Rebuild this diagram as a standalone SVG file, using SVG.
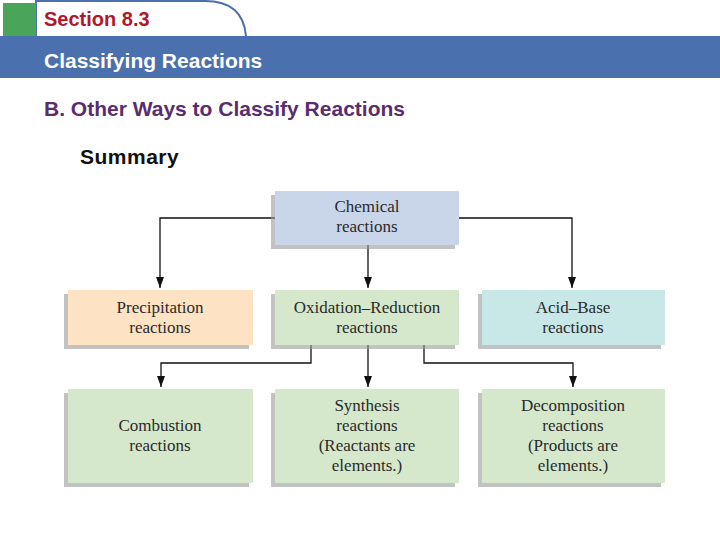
<svg xmlns="http://www.w3.org/2000/svg" width="720" height="540" viewBox="0 0 720 540">
<defs>
<style>
.t{font-family:"Liberation Serif",serif;font-size:17px;fill:#2a2a2a;text-anchor:middle}
.c{fill:none;stroke:#111;stroke-width:1.3}
.sh{fill:#9a9a9a;opacity:0.6}
</style>
<marker id="a" viewBox="0 0 10 10" refX="5" refY="10" markerWidth="7" markerHeight="9" orient="auto-start-reverse" markerUnits="userSpaceOnUse"><path d="M0,0 L10,0 L5,10 Z" fill="#111" transform="rotate(-90 5 5)"/></marker>
<marker id="d" viewBox="0 0 8 11" refX="4" refY="11" markerWidth="8" markerHeight="11" orient="0" markerUnits="userSpaceOnUse"><path d="M0,0 L8,0 L4,11 Z" fill="#111"/></marker>
</defs>
<rect width="720" height="540" fill="#fff"/>
<rect x="0" y="36" width="720" height="42" fill="#4a70ad"/>
<path d="M36,36 V1 H205 Q243,1 246,36" fill="#fff" stroke="#4a70ad" stroke-width="2"/>
<rect x="3" y="3" width="33" height="33" fill="#4aa55a"/>
<text x="44" y="26" font-family="Liberation Sans,sans-serif" font-size="20" font-weight="bold" fill="#b0182a">Section 8.3</text>
<text x="44" y="68" font-family="Liberation Sans,sans-serif" font-size="21" font-weight="bold" fill="#fff">Classifying Reactions</text>
<text x="44" y="116" font-family="Liberation Sans,sans-serif" font-size="21" font-weight="bold" fill="#5a2d6e">B. Other Ways to Classify Reactions</text>
<text x="80" y="164" font-family="Liberation Sans,sans-serif" font-size="21" font-weight="bold" fill="#111" letter-spacing="0.5">Summary</text>
<g id="connectors">
<path class="c" d="M275,218 H160 V288" marker-end="url(#d)"/>
<path class="c" d="M459,218 H572 V288" marker-end="url(#d)"/>
<path class="c" d="M368,245 V288" marker-end="url(#d)"/>
<path class="c" d="M311,345 V363 H161 V387" marker-end="url(#d)"/>
<path class="c" d="M368,345 V387" marker-end="url(#d)"/>
<path class="c" d="M424,345 V363 H573 V387" marker-end="url(#d)"/>
</g>
<g id="chem"><rect class="sh" x="271" y="195" width="184" height="54"/><rect x="275" y="191" width="184" height="54" fill="#c9d5e8"/><text class="t" x="367" y="212">Chemical</text><text class="t" x="367" y="232">reactions</text></g>
<g id="precip"><rect class="sh" x="64" y="294" width="185" height="55"/><rect x="68" y="290" width="185" height="55" fill="#fde2c3"/><text class="t" x="160" y="313">Precipitation</text><text class="t" x="160" y="333">reactions</text></g>
<g id="redox"><rect class="sh" x="271" y="294" width="184" height="55"/><rect x="275" y="290" width="184" height="55" fill="#d5e8cc"/><text class="t" x="367" y="313">Oxidation–Reduction</text><text class="t" x="367" y="333">reactions</text></g>
<g id="acid"><rect class="sh" x="478" y="294" width="183" height="55"/><rect x="482" y="290" width="183" height="55" fill="#c8e8e8"/><text class="t" x="573" y="313">Acid–Base</text><text class="t" x="573" y="333">reactions</text></g>
<g id="comb"><rect class="sh" x="64" y="393" width="185" height="94"/><rect x="68" y="389" width="185" height="94" fill="#d5e8cc"/><text class="t" x="160" y="431">Combustion</text><text class="t" x="160" y="451">reactions</text></g>
<g id="synth"><rect class="sh" x="271" y="393" width="184" height="94"/><rect x="275" y="389" width="184" height="94" fill="#d5e8cc"/><text class="t" x="367" y="411">Synthesis</text><text class="t" x="367" y="431">reactions</text><text class="t" x="367" y="451">(Reactants are</text><text class="t" x="367" y="471">elements.)</text></g>
<g id="decomp"><rect class="sh" x="478" y="393" width="183" height="94"/><rect x="482" y="389" width="183" height="94" fill="#d5e8cc"/><text class="t" x="573" y="411">Decomposition</text><text class="t" x="573" y="431">reactions</text><text class="t" x="573" y="451">(Products are</text><text class="t" x="573" y="471">elements.)</text></g>
</svg>
